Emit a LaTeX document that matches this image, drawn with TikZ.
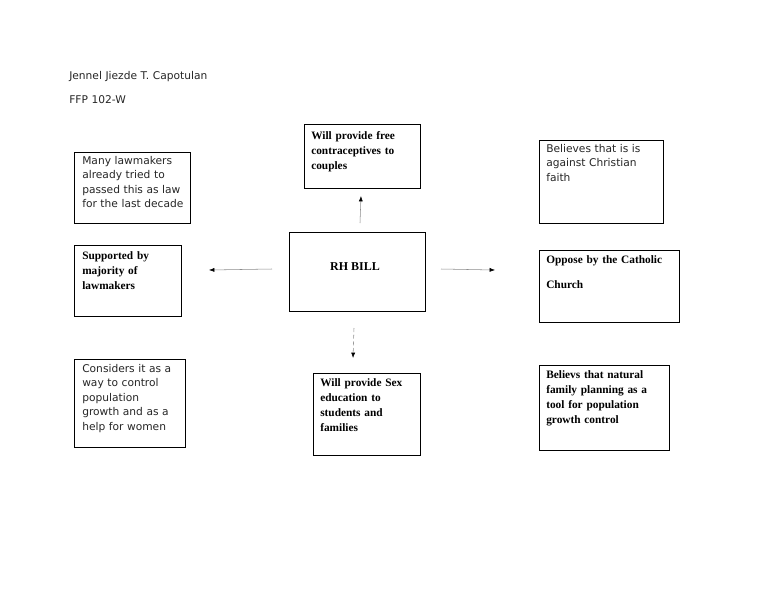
\documentclass[tikz,border=0pt]{standalone}
\usepackage{fontspec}
\setmainfont{Liberation Serif}
\newfontfamily\djv{DejaVu Sans}
\usetikzlibrary{fit,arrows.meta}
\tikzset{
  bx/.style={draw=black, line width=0.6pt, inner sep=0pt},
  sanstxt/.style={anchor=base west, inner sep=0pt, text width=120pt, align=left,
    font=\djv\fontsize{8}{10.9}\selectfont, text=black!85},
  serbold/.style={anchor=base west, inner sep=0pt, text width=120pt, align=left,
    font=\bfseries\fontsize{8.5}{11.25}\selectfont},
  conn/.style={draw=black!45, line width=0.4pt, -{Latex[length=4pt,width=3pt,color=black]}},
}
\begin{document}
\begin{tikzpicture}[x=0.75pt,y=-0.75pt]
\path[use as bounding box, fill=white] (0,0) rectangle (768,594);
% header
\node[sanstxt] (hdr1) at (69,79) {Jennel Jiezde T. Capotulan};
\node[sanstxt] (hdr2) at (69,103) {FFP 102-W};
% boxes
\node[bx, fit={(304,124)(420,188)}] (contra) {};
\node[serbold] (tcontra) at (311,139) {Will provide free\\contraceptives to\\couples};
\node[bx, fit={(74,152)(190,223)}] (many) {};
\node[sanstxt] (tmany) at (82,164) {Many lawmakers\\already tried to\\passed this as law\\for the last decade};
\node[bx, fit={(539,140)(663,223)}] (faith) {};
\node[sanstxt] (tfaith) at (546,152) {Believes that is is\\against Christian\\faith};
\node[bx, fit={(74,245)(181,316)}] (supp) {};
\node[serbold] (tsupp) at (82,259) {Supported by\\majority of\\lawmakers};
\node[bx, fit={(289,232)(425,311)}] (rh) {};
\node[anchor=base, inner sep=0pt, font=\bfseries\fontsize{9}{11}\selectfont] (trh) at (355,270) {RH BILL};
\node[bx, fit={(539,250)(679,322)}] (opp) {};
\node[serbold] (topp) at (546,263) {Oppose by the Catholic\\[7.5pt]Church};
\node[bx, fit={(74,359)(185,447)}] (cons) {};
\node[sanstxt] (tcons) at (82,372) {Considers it as a\\way to control\\population\\growth and as a\\help for women};
\node[bx, fit={(313,373)(420,455)}] (sex) {};
\node[serbold] (tsex) at (320,386) {Will provide Sex\\education to\\students and\\families};
\node[bx, fit={(539,365)(669,450)}] (nat) {};
\node[serbold] (tnat) at (546,378) {Believs that natural\\family planning as a\\tool for population\\growth control};
% connector endpoints
\coordinate (uS) at (360,223);
\coordinate (uE) at (361,196);
\coordinate (lS) at (272,269);
\coordinate (lE) at (209,270);
\coordinate (rS) at (441,269);
\coordinate (rE) at (495,270);
\coordinate (dS) at (354,328);
\coordinate (dE) at (353,358);
\draw[conn] (uS) -- (uE);
\draw[conn] (lS) -- (lE);
\draw[conn] (rS) -- (rE);
\draw[conn, densely dashed] (dS) -- (dE);
\end{tikzpicture}
\end{document}
